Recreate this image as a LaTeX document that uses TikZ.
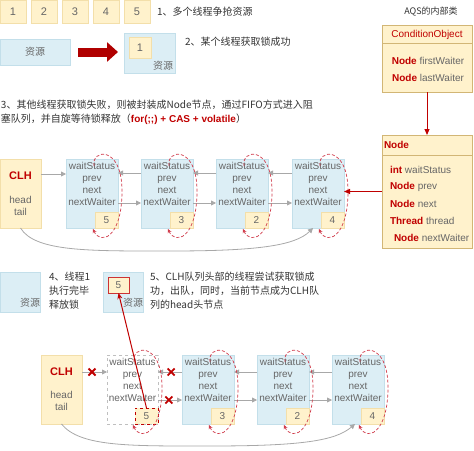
\documentclass[tikz,border=0pt]{standalone}
\usepackage{fontspec}
\setmainfont{Liberation Sans}
\newfontfamily\cjk{Noto Sans CJK SC}
\usetikzlibrary{arrows.meta,calc,shapes.misc}
\definecolor{yel}{HTML}{FFF2CC}
\definecolor{yelb}{HTML}{F3DFAA}
\definecolor{blu}{HTML}{DCEEF5}
\definecolor{blub}{HTML}{C3DFEA}
\definecolor{dred}{HTML}{C00000}
\definecolor{bigred}{HTML}{B00000}
\definecolor{lred}{HTML}{D03A4A}
\definecolor{gtxt}{HTML}{666666}
\definecolor{ctxt}{HTML}{333333}
\definecolor{garr}{HTML}{A8A8A8}
\definecolor{clsb}{HTML}{D2B675}
\newcommand\kwd[1]{{\color{dred}\bfseries #1}}
\tikzset{
 every node/.style={inner sep=0pt,outer sep=0pt},
 txt/.style={text=ctxt,font=\cjk\fontsize{10}{12}\selectfont},
 numbox/.style={fill=yel,draw=yelb,line width=0.6pt,minimum width=26pt,minimum height=23pt,text=gtxt,font=\fontsize{11}{13}\selectfont},
 resbox/.style={fill=blu,draw=blub,line width=0.6pt},
 restxt/.style={text=gtxt,font=\cjk\fontsize{10}{12}\selectfont},
 clhbox/.style={fill=yel,draw=yelb,line width=0.6pt,minimum width=41pt,minimum height=69pt},
 clhtxt/.style={text=dred,font=\bfseries\fontsize{11}{13}\selectfont},
 ht/.style={text=gtxt,font=\fontsize{10}{12}\selectfont},
 qbox/.style={fill=blu,draw=blub,line width=0.6pt,minimum width=52pt,minimum height=69pt},
 ghostbox/.style={fill=white,draw=gray!50,dashed,line width=0.7pt,minimum width=51pt,minimum height=69pt},
 qtext/.style={align=center,text=gtxt,font=\fontsize{10}{12}\selectfont},
 nbox/.style={fill=yel,draw=yelb,line width=0.6pt,minimum width=23pt,minimum height=16pt,text=gtxt,font=\fontsize{10}{12}\selectfont},
 ghostn/.style={draw=dred,dashed},
 clsbox/.style={fill=yel,draw=clsb,line width=0.7pt,minimum width=90pt},
 clsline/.style={draw=clsb,line width=0.7pt},
 clstxt/.style={text=gtxt,font=\fontsize{10}{12}\selectfont},
 garrow/.style={draw=garr,line width=0.8pt,-{Triangle[length=5pt,width=5pt]}},
 loopline/.style={draw=lred,line width=0.7pt,dash pattern=on 3pt off 2pt,-{Stealth[length=4pt,width=4pt]}},
 redarrow/.style={draw=dred,line width=1pt,-{Triangle[length=6pt,width=5pt]}},
 xmark/.style={cross out,draw=dred,line width=1.8pt,minimum size=7pt},
 bigarrow/.style={draw=bigred,line width=9pt,-{Triangle[length=11pt,width=19pt]}},
}
% queue node: #1 name, #2 x, #3 y, #4 number, #5 box style, #6 small box extra
\newcommand\mkqn[6]{%
 \node[#5,anchor=north west] (#1) at (#2,#3) {};
 \node[qtext] (#1t) at ($(#1.north)+(0,25)$) {waitStatus\\prev\\next\\nextWaiter};
 \node[nbox,#6,anchor=south east] (#1n) at (#1.south east) {#4};
}
\newcommand\selfloop[1]{%
 \draw[loopline] ($(#1.north east)+(-24,7)$) .. controls ($(#1.north east)+(-27,-10)$) and ($(#1.north east)+(4,-14)$) .. ($(#1.north east)+(4,32)$) .. controls ($(#1.north east)+(4,80)$) and ($(#1.north east)+(-18,86)$) .. ($(#1.north east)+(-25,70)$);}
\begin{document}
\begin{tikzpicture}[x=1pt,y=-1pt]
\useasboundingbox (0,0) rectangle (474,450);
% ---- row 1
\node[numbox] (b1) at (13,11.5) {1};
\node[numbox] (b2) at (44,11.5) {2};
\node[numbox] (b3) at (75,11.5) {3};
\node[numbox] (b4) at (106,11.5) {4};
\node[numbox] (b5) at (137,11.5) {5};
\node[txt,anchor=west] (t1) at (157,12) {1、多个线程争抢资源};
% ---- row 2
\node[resbox,minimum width=70pt,minimum height=26pt] (res1) at (35,52) {};
\node[restxt] (res1t) at (res1) {资源};
\node[resbox,minimum width=51pt,minimum height=40pt] (res2) at (149.5,53) {};
\node[numbox,minimum width=22pt,minimum height=21pt] (own1) at (140,47.5) {1};
\node[restxt] (res2t) at (163,66) {资源};
\draw[bigarrow,shorten <=8pt,shorten >=6pt] (res1.east) -- (res1.east -| res2.west);
\node[txt,anchor=west] (t2) at (185,42) {2、某个线程获取锁成功};
% ---- AQS classes
\node[txt,font=\cjk\fontsize{9}{11}\selectfont] (aqs) at (431,12) {AQS的内部类};
\node[clsbox,minimum height=67pt,anchor=north west] (co) at (382,25) {};
\draw[clsline] ($(co.north west)+(0,18)$) -- ($(co.north east)+(0,18)$);
\node[text=dred,font=\fontsize{10}{12}\selectfont] (cot) at ($(co.north)+(0,9.5)$) {ConditionObject};
\node[clstxt] (cof) at ($(co.north)+(1,36)$) {\kwd{Node} firstWaiter};
\node[clstxt] (col) at ($(co.north)+(1,53)$) {\kwd{Node} lastWaiter};
\node[clsbox,minimum height=113pt,anchor=north west] (ncls) at (382,135) {};
\draw[clsline] ($(ncls.north west)+(0,20)$) -- ($(ncls.north east)+(0,20)$);
\node[anchor=west,font=\fontsize{10}{12}\selectfont] (nclst) at (384,145) {\kwd{Node}};
\node[clstxt,anchor=west] (f1) at (390,170) {\kwd{int} waitStatus};
\node[clstxt,anchor=west] (f2) at (390,187) {\kwd{Node} prev};
\node[clstxt,anchor=west] (f3) at (390,204) {\kwd{Node} next};
\node[clstxt,anchor=west] (f4) at (390,221) {\kwd{Thread} thread};
\node[clstxt,anchor=west] (f5) at (394,238) {\kwd{Node} nextWaiter};
\draw[redarrow] (co.south) -- (ncls.north);
% ---- text 3
\node[txt,anchor=west] (t3a) at (1,105) {3、其他线程获取锁失败，则被封装成Node节点，通过FIFO方式进入阻};
\node[txt,anchor=west] (t3b) at (1,119) {塞队列，并自旋等待锁释放（{\fontspec{Liberation Sans}\bfseries\color{dred}for(;;) + CAS + volatile}）};
% ---- row 3 queue
\node[clhbox,anchor=north west] (clh1) at (0,159) {};
\node[clhtxt] (clh1a) at (20.5,176) {CLH};
\node[ht] (clh1b) at (20.5,200) {head};
\node[ht] (clh1c) at (20.5,212) {tail};
\mkqn{q1}{66}{159}{5}{qbox}{}
\mkqn{q2}{141}{159}{3}{qbox}{}
\mkqn{q3}{216}{159}{2}{qbox}{}
\mkqn{q4}{292}{159}{4}{qbox}{}
\draw[garrow] ($(clh1.north east)+(0,15)$) -- ($(q1.north west)+(0,15)$);
\draw[garrow] ($(q2.north west)+(0,14)$) -- ($(q1.north east)+(0,14)$);
\draw[garrow] ($(q3.north west)+(0,14)$) -- ($(q2.north east)+(0,14)$);
\draw[garrow] ($(q4.north west)+(0,14)$) -- ($(q3.north east)+(0,14)$);
\draw[garrow] ($(q1.north east)+(0,44)$) -- ($(q2.north west)+(0,44)$);
\draw[garrow] ($(q2.north east)+(0,44)$) -- ($(q3.north west)+(0,44)$);
\draw[garrow] ($(q3.north east)+(0,44)$) -- ($(q4.north west)+(0,44)$);
\draw[garrow] (clh1.south) .. controls (35,252) and (90,251) .. (170,251) .. controls (255,251) and (295,246) .. ($(q4.south west)+(21,0)$);
\selfloop{q1}\selfloop{q2}\selfloop{q3}\selfloop{q4}
\draw[redarrow] (ncls.west) -- (ncls.west -| q4.east);
% ---- row 4
\node[resbox,minimum width=40pt,minimum height=40pt] (res3) at (20,292) {};
\node[restxt] (res3t) at (30,303) {资源};
\node[txt,anchor=west] (t4a) at (49,277) {4、线程1};
\node[txt,anchor=west] (t4b) at (49,291) {执行完毕};
\node[txt,anchor=west] (t4c) at (49,305) {释放锁};
\node[resbox,minimum width=40pt,minimum height=40pt] (res4) at (123,292) {};
\node[numbox,draw=dred!80,minimum width=21pt,minimum height=16pt,font=\fontsize{10}{12}\selectfont] (r5) at (118.5,285) {5};
\node[restxt] (res4t) at (133,303) {资源};
\node[txt,anchor=west] (t5a) at (150,277) {5、CLH队列头部的线程尝试获取锁成};
\node[txt,anchor=west] (t5b) at (150,291) {功，出队，同时，当前节点成为CLH队};
\node[txt,anchor=west] (t5c) at (150,305) {列的head头节点};
% ---- bottom queue
\node[clhbox,anchor=north west] (clh2) at (41,355) {};
\node[clhtxt] (clh2a) at (61.5,372) {CLH};
\node[ht] (clh2b) at (61.5,395) {head};
\node[ht] (clh2c) at (61.5,407) {tail};
\mkqn{p1}{107}{355}{5}{ghostbox}{ghostn}
\mkqn{p2}{182}{355}{3}{qbox}{}
\mkqn{p3}{257}{355}{2}{qbox}{}
\mkqn{p4}{332}{355}{4}{qbox}{}
\draw[garrow] ($(clh2.north east)+(0,17)$) -- node[xmark,pos=0.4] (x1) {} ($(p1.north west)+(0,17)$);
\draw[garrow] ($(p2.north west)+(0,17)$) -- node[xmark,pos=0.45] (x2) {} ($(p1.north east)+(0,17)$);
\draw[garrow] ($(p3.north west)+(0,17)$) -- ($(p2.north east)+(0,17)$);
\draw[garrow] ($(p4.north west)+(0,17)$) -- ($(p3.north east)+(0,17)$);
\draw[garrow] ($(p1.north east)+(0,45)$) -- node[xmark,pos=0.45] (x3) {} ($(p2.north west)+(0,45)$);
\draw[garrow] ($(p2.north east)+(0,45)$) -- ($(p3.north west)+(0,45)$);
\draw[garrow] ($(p3.north east)+(0,45)$) -- ($(p4.north west)+(0,45)$);
\draw[garrow] (clh2.south) .. controls (80,447) and (130,446) .. (210,446) .. controls (300,446) and (335,441) .. ($(p4.south west)+(23,0)$);
\selfloop{p1}\selfloop{p2}\selfloop{p3}\selfloop{p4}
\draw[draw=dred,line width=1pt,-{Stealth[length=6pt,width=5pt]}] (p1n.north) -- (r5.south);
\end{tikzpicture}
\end{document}
